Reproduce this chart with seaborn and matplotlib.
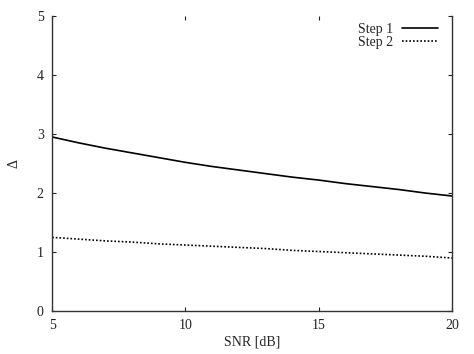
import numpy as np
import pandas as pd
import seaborn as sns
import matplotlib.pyplot as plt

# Valores
snr_db = [5, 6, 7, 8, 9, 10, 11, 12, 13, 14, 15, 16, 17, 18, 19, 20]
step1 = [2.95, 2.85, 2.76, 2.68, 2.60, 2.52, 2.45, 2.39, 2.33, 2.27,
         2.22, 2.16, 2.11, 2.06, 2.00, 1.95]
step2 = [1.25, 1.22, 1.19, 1.17, 1.14, 1.12, 1.10, 1.08, 1.06, 1.03,
         1.01, 0.99, 0.97, 0.95, 0.93, 0.90]
series_names = ["Step 1", "Step 2"]

sns.set_theme(style="ticks")
plt.rcParams["font.family"] = ["Liberation Serif", "DejaVu Serif"]

df = pd.DataFrame({"SNR": snr_db * 2,
                   "Delta": step1 + step2,
                   "Serie": [series_names[0]] * len(snr_db) + [series_names[1]] * len(snr_db)})

fig = plt.figure(figsize=(4.74, 3.54), dpi=100)
ax = fig.add_axes([0.11, 0.121, 0.844, 0.834])

sns.lineplot(data=df, x="SNR", y="Delta", hue="Serie", style="Serie",
             palette=["black", "black"],
             dashes={"Step 1": "", "Step 2": (1, 1.2)},
             linewidth=1.2, ax=ax, legend=False)

ax.set_xlim(5, 20)
ax.set_ylim(0, 5)
ax.set_xticks([5, 10, 15, 20])
ax.set_yticks([0, 1, 2, 3, 4, 5])
ax.tick_params(direction="in", length=3, width=0.8, labelsize=10,
               top=True, right=True, colors="#222222", pad=6)
ax.spines["top"].set_visible(False)
for s in ["left", "right", "bottom"]:
    ax.spines[s].set_color("#333333")
    ax.spines[s].set_linewidth(1.0)

ax.set_xlabel("SNR [dB]", fontsize=10, labelpad=2)
ax.set_ylabel("Δ", fontsize=10, labelpad=12)

handles = [plt.Line2D([], [], color="black", lw=1.2),
           plt.Line2D([], [], color="black", lw=1.2, ls=(0, (1, 1.2)))]
ax.legend(handles, series_names, loc="upper right", frameon=False,
          markerfirst=False, fontsize=10, handlelength=2.6,
          labelspacing=0.05, handletextpad=0.6,
          bbox_to_anchor=(0.995, 1.02))

fig.savefig("out.png", dpi=100)
